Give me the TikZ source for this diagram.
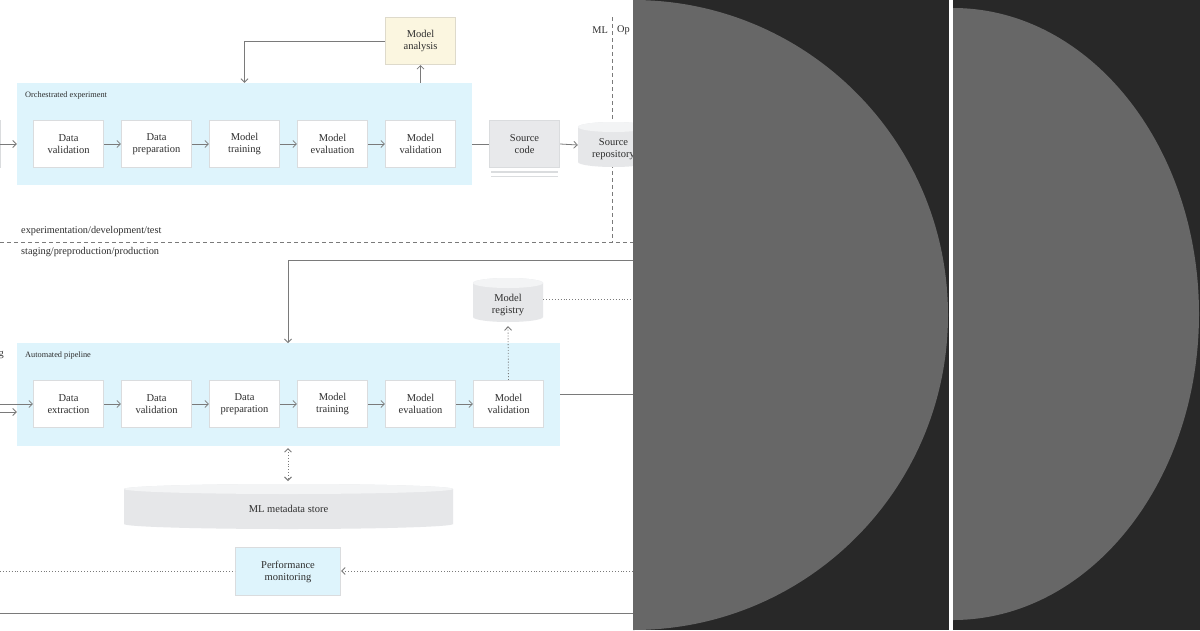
\documentclass[tikz,border=0pt]{standalone}
\usepackage{fontspec}
\setmainfont{Liberation Serif}
\usetikzlibrary{arrows.meta}
\definecolor{blueb}{HTML}{DEF4FC}
\definecolor{boxline}{HTML}{DADCDE}
\definecolor{lineg}{HTML}{7A7A7A}
\definecolor{txt}{HTML}{2E2E2E}
\definecolor{yellowb}{HTML}{FBF6E0}
\definecolor{yellowl}{HTML}{DEDACB}
\definecolor{srcfill}{HTML}{E8E9EB}
\definecolor{cylbody}{HTML}{E6E7E9}
\definecolor{cyltop}{HTML}{F3F4F5}
\definecolor{darkbg}{HTML}{282828}
\definecolor{discgray}{HTML}{676767}
\tikzset{
  boxn/.style={draw=boxline, line width=1.2pt, fill=white, minimum width=70pt, minimum height=47pt,
    inner sep=0pt, align=center, text=txt, font=\fontsize{10.5}{12}\selectfont},
  cont/.style={fill=blueb, draw=none, inner sep=0pt},
  lbl/.style={text=txt, inner sep=0pt, font=\fontsize{10.3}{12}\selectfont},
  smalllbl/.style={text=txt, inner sep=0pt, font=\fontsize{8.3}{10}\selectfont},
  cyltext/.style={inner sep=0pt, align=center, text=txt, font=\fontsize{10.5}{12}\selectfont},
  arr/.style={draw=lineg, line width=0.8pt, -{Straight Barb[length=3.5pt,width=7pt]}},
  conn/.style={draw=lineg, line width=0.8pt},
  dotl/.style={draw=lineg, line width=0.9pt, dash pattern=on 0.9pt off 2pt},
  dasht/.style={draw=lineg, line width=0.9pt, dash pattern=on 4pt off 3pt},
  stackl/.style={draw=boxline, line width=1.2pt}
}
\begin{document}
\begin{tikzpicture}[x=1pt,y=-1pt]
\useasboundingbox (0,0) rectangle (1200,630);
\fill[white] (0,0) rectangle (1200,630);

% ---------- top section ----------
\node[boxn] (prev) at (-34.5,144) {};
\node[cont, minimum width=455pt, minimum height=102pt] (orch) at (244.5,134) {};
\node[smalllbl, anchor=west] (orchl) at (25,95) {Orchestrated experiment};

\node[boxn] (odv) at (68.5,144) {Data\\validation};
\node[boxn] (odp) at (156.5,144) {Data\\preparation};
\node[boxn] (omt) at (244.5,144) {Model\\training};
\node[boxn] (ome) at (332.5,144) {Model\\evaluation};
\node[boxn] (omv) at (420.5,144) {Model\\validation};

\node[boxn, fill=yellowb, draw=yellowl] (anal) at (420.5,41) {Model\\analysis};

\node[boxn, fill=srcfill] (src) at (524.5,144) {Source\\code};
\draw[stackl] (491,172) -- (558,172);
\draw[stackl] (491,176.5) -- (558,176.5);

\coordinate (inTop) at (0,144);
\draw[arr] (inTop) -- (orch.west |- inTop);
\draw[arr] (odv) -- (odp);
\draw[arr] (odp) -- (omt);
\draw[arr] (omt) -- (ome);
\draw[arr] (ome) -- (omv);
\draw[arr] (orch.north -| anal) -- (anal.south);
\draw[arr] (anal.west) -| (omt.center |- orch.north);
\draw[conn] (orch.east |- src) -- (src.west);

% ML / Ops separator
\coordinate (vTop) at (612,17);
\coordinate (vBot) at (612,242);
\coordinate (hL) at (0,242);
\coordinate (hR) at (633,242);
\draw[dasht] (vTop) -- (vBot);
\draw[dasht] (hL) -- (hR);
\node[lbl, anchor=east] (mll) at (608,30) {ML};
\node[lbl, anchor=west] (opl) at (617,30) {Op};

% source repository cylinder
\node[cyltext, minimum width=71pt, minimum height=46pt] (repo) at (613.5,145) {};
\fill[cylbody] (578,127) -- (578,162) arc[start angle=180,end angle=360,x radius=35.5pt,y radius=5pt]
  -- (649,127) arc[start angle=0,end angle=180,x radius=35.5pt,y radius=5pt] -- cycle;
\fill[cyltop] (613.5,127) ellipse[x radius=35.5pt,y radius=5pt];
\node[cyltext] (repot) at (613.5,149) {Source\\repository};
\draw[arr] (src.east) -- (repo.west);

\node[lbl, anchor=west] (envA) at (21,231) {experimentation/development/test};
\node[lbl, anchor=west] (envB) at (21,252) {staging/preproduction/production};

% ---------- bottom section ----------
\node[cont, minimum width=543pt, minimum height=103pt] (pipe) at (288.5,394.5) {};
\node[smalllbl, anchor=west] (pipel) at (25,355) {Automated pipeline};

\node[boxn] (pde) at (68.5,404) {Data\\extraction};
\node[boxn] (pdv) at (156.5,404) {Data\\validation};
\node[boxn] (pdp) at (244.5,404) {Data\\preparation};
\node[boxn] (pmt) at (332.5,404) {Model\\training};
\node[boxn] (pme) at (420.5,404) {Model\\evaluation};
\node[boxn] (pmv) at (508.5,404) {Model\\validation};

\node[anchor=east, text=txt, inner sep=0pt, font=\fontsize{10.3}{12}\selectfont] (frag) at (4,355) {g};

\coordinate (inB1) at (0,404);
\coordinate (inB2) at (0,412);
\draw[arr] (inB1) -- (pde.west);
\draw[arr] (inB2) -- (pipe.west |- inB2);
\draw[arr] (pde) -- (pdv);
\draw[arr] (pdv) -- (pdp);
\draw[arr] (pdp) -- (pmt);
\draw[arr] (pmt) -- (pme);
\draw[arr] (pme) -- (pmv);

% feedback from ops
\coordinate (fbR) at (633,260);
\coordinate (fbD) at (288,343);
\draw[arr] (fbR) -| (fbD);

% model registry cylinder
\node[cyltext, minimum width=70pt, minimum height=48pt] (reg) at (508,302) {};
\fill[cylbody] (473,283) -- (473,317) arc[start angle=180,end angle=360,x radius=35pt,y radius=5pt]
  -- (543,283) arc[start angle=0,end angle=180,x radius=35pt,y radius=5pt] -- cycle;
\fill[cyltop] (508,283) ellipse[x radius=35pt,y radius=5pt];
\node[cyltext] (regt) at (508,304.5) {Model\\registry};
\draw[dotl, -{Straight Barb[length=3.5pt,width=7pt]}] (pmv.north) -- (reg.south);
\coordinate (regR) at (633,299);
\draw[dotl] (reg.east |- regR) -- (regR);

\coordinate (pipeR) at (633,394);
\draw[conn] (pipe.east |- pipeR) -- (pipeR);

% metadata store
\node[cyltext, minimum width=329pt, minimum height=46pt] (meta) at (288.5,507) {};
\fill[cylbody] (124,489) -- (124,524) arc[start angle=180,end angle=360,x radius=164.5pt,y radius=5pt]
  -- (453,489) arc[start angle=0,end angle=180,x radius=164.5pt,y radius=5pt] -- cycle;
\fill[cyltop] (288.5,489) ellipse[x radius=164.5pt,y radius=5pt];
\node[cyltext] (metat) at (288.5,509) {ML metadata store};
\coordinate (mA) at (288,446);
\coordinate (mB) at (288,484);
\draw[dotl, {Straight Barb[length=3.5pt,width=7pt]}-{Straight Barb[length=3.5pt,width=7pt]}, shorten <=2pt, shorten >=3pt]
  (mA) -- (mB);

% performance monitoring
\node[boxn, fill=blueb, minimum width=105pt, minimum height=48pt] (perf) at (288,571.5) {Performance\\monitoring};
\coordinate (pmL) at (0,571);
\coordinate (pmR) at (633,571);
\draw[dotl] (pmL) -- (perf.west |- pmL);
\draw[dotl, -{Straight Barb[length=3.5pt,width=7pt]}] (pmR) -- (perf.east |- pmR);

\coordinate (bl) at (0,613);
\coordinate (br) at (633,613);
\draw[conn, line width=1pt] (bl) -- (br);

% ---------- dark panels ----------
\fill[darkbg] (633,0) rectangle (1200,630);
\fill[white] (948.5,0) rectangle (953,630);
\begin{scope}
  \clip (633,0) rectangle (948.5,630);
  \fill[discgray] (633,315) circle[radius=315pt];
\end{scope}
\begin{scope}
  \clip (953,0) rectangle (1200,630);
  \fill[discgray] (953,314) ellipse[x radius=246pt,y radius=306pt];
\end{scope}
\end{tikzpicture}
\end{document}
